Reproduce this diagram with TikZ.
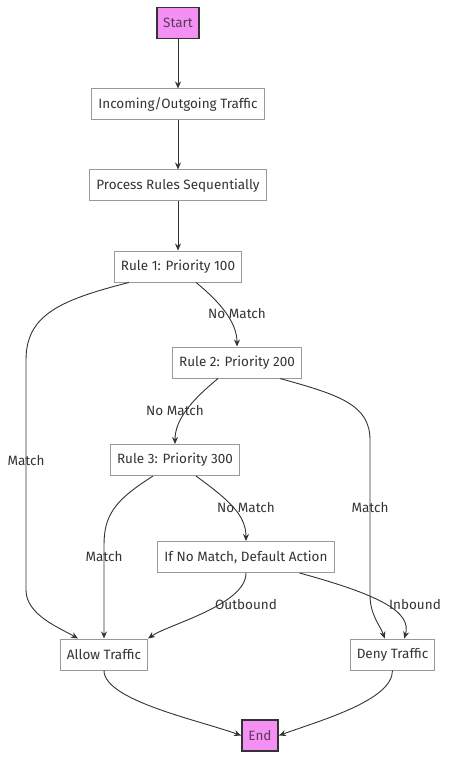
\documentclass[tikz,border=0pt]{standalone}
\usepackage{fontspec}
\setmainfont{Fira Sans}
\usetikzlibrary{arrows.meta}
\definecolor{textgray}{HTML}{333333}
\definecolor{boxgray}{HTML}{999999}
\definecolor{linegray}{HTML}{333333}
\definecolor{termfill}{HTML}{F490F4}
\definecolor{termtext}{HTML}{5C3A5C}

\begin{document}
\begin{tikzpicture}[x=1pt,y=-1pt,
    every node/.style={font=\fontsize{13.5}{16}\selectfont, text=textgray},
    box/.style={draw=boxgray, fill=white, line width=1pt, minimum height=31pt, inner xsep=6.5pt},
    term/.style={box, draw=linegray, fill=termfill, line width=1.8pt, text=termtext},
    lbl/.style={inner sep=1pt},
    link/.style={draw=linegray, line width=0.9pt, -{Stealth[length=7pt,width=6pt]}}]
    \useasboundingbox (0,0) rectangle (450,759);
    % nodes
    \node[term] (start) at (178,23) {Start};
    \node[box] (traffic) at (178,104.5) {Incoming/Outgoing Traffic};
    \node[box] (process) at (178,185.5) {Process Rules Sequentially};
    \node[box] (rule1) at (178,266.5) {Rule 1: Priority 100};
    \node[box] (rule2) at (237,362.5) {Rule 2: Priority 200};
    \node[box] (rule3) at (175,460) {Rule 3: Priority 300};
    \node[box] (default) at (246,557) {If No Match, Default Action};
    \node[box] (allow) at (104,654.5) {Allow Traffic};
    \node[box] (deny) at (392.5,654.5) {Deny Traffic};
    \node[term] (end) at (260,735.5) {End};
    % edge labels
    \node[lbl] (l12) at (237,314) {No Match};
    \node[lbl] (l1a) at (26,461) {Match};
    \node[lbl] (l23) at (175,411) {No Match};
    \node[lbl] (l2d) at (370,508) {Match};
    \node[lbl] (l3a) at (104,557) {Match};
    \node[lbl] (l3x) at (246,508) {No Match};
    \node[lbl] (lxa) at (246,605) {Outbound};
    \node[lbl] (lxd) at (415,605) {Inbound};
    % edges
    \draw[link] (start) -- (traffic);
    \draw[link] (traffic) -- (process);
    \draw[link] (process) -- (rule1);
    \draw[link] ([xshift=-46pt]rule1.south east) .. controls +(28,23) and +(0,-22) .. (rule2.north);
    \draw[link] ([xshift=15pt]rule1.south west) .. controls (60,300) and (26,315) .. (26,360)
        -- (26,590) .. controls (26,615) and (60,628) .. ([xshift=18pt]allow.north west);
    \draw[link] ([xshift=46pt]rule2.south west) .. controls +(-27,22) and +(0,-24) .. (rule3.north);
    \draw[link] ([xshift=-22pt]rule2.south east) .. controls (340,395) and (370,405) .. (370,440)
        -- (370,595) .. controls (370,615) and (380,625) .. ([xshift=35pt]deny.north west);
    \draw[link] ([xshift=43pt]rule3.south west) .. controls (115,500) and (104,515) .. (104,545)
        -- (allow.north);
    \draw[link] ([xshift=-44pt]rule3.south east) .. controls +(33,24) and +(0,-26) .. (default.north);
    \draw[link] (default.south) .. controls +(0,32) and +(20,-14) .. (allow.north east);
    \draw[link] ([xshift=-35pt]default.south east) .. controls (380,595) and (412,612) .. ([xshift=-31pt]deny.north east);
    \draw[link] (allow.south) .. controls +(0,30) and +(-41,-15) .. (end.west);
    \draw[link] (deny.south) .. controls +(0,30) and +(41,-15) .. (end.east);
\end{tikzpicture}
\end{document}
